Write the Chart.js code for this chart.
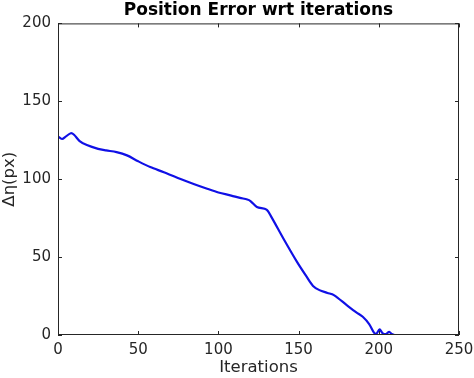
<!DOCTYPE html>
<html>
<head>
<meta charset="utf-8">
<script src="https://cdn.jsdelivr.net/npm/chart.js@4/dist/chart.umd.min.js"></script>
<style>
  html, body { margin: 0; padding: 0; background: #fff; overflow: hidden; }
  #wrap { width: 474px; height: 378px; }
</style>
</head>
<body>
<div id="wrap"><canvas id="chart"></canvas></div>
<script>
// values
const iterations = [0, 2.5, 5, 8, 10, 13.5, 18, 25, 30, 36.5, 43, 50, 57.5, 66, 76, 85, 93, 100, 108, 113.5, 118, 120, 124, 130, 133, 140.5, 149, 155, 159, 163, 168, 172, 180, 186, 190, 194, 197, 198.5, 200.5, 202.5, 204.5, 206.5, 208, 210];
const posError = [127.4, 125.8, 127.5, 129.5, 128.5, 124.5, 121.9, 119.5, 118.5, 117.4, 115.3, 111.5, 107.8, 104.5, 100.3, 96.8, 93.9, 91.5, 89.5, 88, 87, 86, 82.2, 80.5, 75.8, 61.9, 46.9, 37.4, 31.5, 28.8, 27, 25.6, 19.2, 14.5, 11.7, 7, 1.5, 0.8, 3.6, 1, 0.6, 2.1, 0.6, 0];
const xTicks = [0, 50, 100, 150, 200, 250];
const yTicks = [0, 50, 100, 150, 200];

const axisColor = '#262626';
const fontFam = '"DejaVu Sans", sans-serif';

// box around the plot with inward ticks, matlab style
const boxTicks = {
  id: 'boxTicks',
  afterLayout(chart) {
    // center the title over the plot box, not the whole canvas
    if (chart.titleBlock) {
      chart.titleBlock.left = chart.chartArea.left;
      chart.titleBlock.right = chart.chartArea.right;
    }
  },
  afterDraw(chart) {
    const { ctx, chartArea: a, scales } = chart;
    ctx.save();
    ctx.strokeStyle = axisColor;
    ctx.lineWidth = 1;
    ctx.strokeRect(a.left + 0.5, a.top + 0.5, a.right - a.left - 1, a.bottom - a.top - 1);
    const len = 4;
    ctx.beginPath();
    scales.x.ticks.forEach(t => {
      const px = Math.round(scales.x.getPixelForValue(t.value)) + 0.5;
      ctx.moveTo(px, a.bottom); ctx.lineTo(px, a.bottom - len);
      ctx.moveTo(px, a.top); ctx.lineTo(px, a.top + len);
    });
    scales.y.ticks.forEach(t => {
      const py = Math.round(scales.y.getPixelForValue(t.value)) + 0.5;
      ctx.moveTo(a.left, py); ctx.lineTo(a.left + len, py);
      ctx.moveTo(a.right, py); ctx.lineTo(a.right - len, py);
    });
    ctx.stroke();
    ctx.restore();
  }
};

new Chart(document.getElementById('chart'), {
  type: 'line',
  data: {
    datasets: [{
      data: iterations.map((x, i) => ({ x: x, y: posError[i] })),
      borderColor: '#1010e6',
      borderWidth: 2.2,
      pointRadius: 0,
      tension: 0.3,
      fill: false
    }]
  },
  options: {
    responsive: true,
    maintainAspectRatio: false,
    animation: false,
    layout: { padding: { left: 0, right: 15, top: 0, bottom: 0 } },
    plugins: {
      legend: { display: false },
      tooltip: { enabled: false },
      title: {
        display: true,
        text: 'Position Error wrt iterations',
        color: '#000',
        font: { family: fontFam, size: 17, weight: 'bold' },
        padding: { top: 0, bottom: 3 }
      }
    },
    scales: {
      x: {
        type: 'linear',
        min: 0,
        max: 250,
        afterBuildTicks: s => { s.ticks = xTicks.map(v => ({ value: v })); },
        afterFit: s => { s.height = 43; s.paddingRight = 0; s.paddingLeft = 0; },
        grid: { display: false, drawTicks: false },
        border: { display: false },
        ticks: { color: axisColor, font: { family: fontFam, size: 15 }, padding: 6, maxRotation: 0 },
        title: {
          display: true,
          text: 'Iterations',
          color: axisColor,
          font: { family: fontFam, size: 16.5 },
          padding: { top: 0, bottom: 0 }
        }
      },
      y: {
        min: 0,
        max: 200,
        afterBuildTicks: s => { s.ticks = yTicks.map(v => ({ value: v })); },
        afterFit: s => { s.width = 58; },
        grid: { display: false, drawTicks: false },
        border: { display: false },
        ticks: { color: axisColor, font: { family: fontFam, size: 15 }, padding: 7 },
        title: {
          display: true,
          text: 'Δη(px)',
          color: axisColor,
          font: { family: fontFam, size: 16.5 },
          padding: { top: 0, bottom: 0 }
        }
      }
    }
  },
  plugins: [boxTicks]
});
</script>
</body>
</html>
